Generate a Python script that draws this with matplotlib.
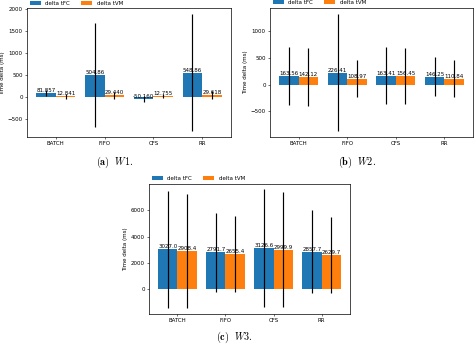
import numpy as np
import matplotlib
matplotlib.use('Agg')
import matplotlib.pyplot as plt

plt.rcParams['mathtext.fontset'] = 'cm'

# categories
schedulers = ['BATCH', 'FIFO', 'CFS', 'RR']

# W1
w1_tfc = [81.857, 504.86, -50.16, 548.86]
w1_tfc_err = [75, 1185, 78, 1335]
w1_tvm = [12.841, 29.440, 12.755, 29.618]
w1_tvm_err = [55, 80, 45, 90]

# W2
w2_tfc = [163.56, 226.41, 163.41, 146.25]
w2_tfc_err = [545, 1105, 535, 370]
w2_tvm = [142.12, 108.97, 156.45, 110.84]
w2_tvm_err = [540, 350, 532, 350]

# W3
w3_tfc = [3027.0, 2791.7, 3126.6, 2857.7]
w3_tfc_err = [4420, 2980, 4450, 3150]
w3_tvm = [2908.4, 2655.4, 2999.9, 2629.7]
w3_tvm_err = [4300, 2870, 4350, 2880]

fs = 4
width = 0.4


def draw(ax, tfc, tfc_err, tvm, tvm_err):
    x = np.arange(len(schedulers))
    ax.bar(x - width / 2, tfc, width, yerr=tfc_err, color='#1f77b4',
           ecolor='black', error_kw={'elinewidth': 0.85}, label='delta tFC')
    ax.bar(x + width / 2, tvm, width, yerr=tvm_err, color='#ff7f0e',
           ecolor='black', error_kw={'elinewidth': 0.85}, label='delta tVM')
    for xi, v in zip(x - width / 2, tfc):
        ax.text(xi, v, '%#.5g' % v, ha='center', va='bottom', fontsize=fs)
    for xi, v in zip(x + width / 2, tvm):
        ax.text(xi, v, '%#.5g' % v, ha='center', va='bottom', fontsize=fs)
    ax.set_xticks(x)
    ax.set_xticklabels(schedulers)
    ax.set_ylabel('Time delta (ms)', fontsize=fs, labelpad=2)
    ax.tick_params(labelsize=fs, length=1.5, width=0.4, pad=1.5)
    for s in ax.spines.values():
        s.set_linewidth(0.5)
    ax.legend(loc='lower left', bbox_to_anchor=(0, 1.0), ncol=2,
              frameon=False, fontsize=fs, borderaxespad=0.1)


fig = plt.figure(figsize=(4.74, 3.45), dpi=100)

ax1 = fig.add_axes([27 / 474, (345 - 137) / 345, 204 / 474, 128.6 / 345])
draw(ax1, w1_tfc, w1_tfc_err, w1_tvm, w1_tvm_err)

ax2 = fig.add_axes([270 / 474, (345 - 137) / 345, 203 / 474, 129 / 345])
draw(ax2, w2_tfc, w2_tfc_err, w2_tvm, w2_tvm_err)

ax3 = fig.add_axes([149 / 474, (345 - 314.3) / 345, 201 / 474, 130.3 / 345])
draw(ax3, w3_tfc, w3_tfc_err, w3_tvm, w3_tvm_err)
ax3.set_ylim(-1900, 7990)

fig.text(115 / 474, 1 - 162 / 345, r'$\mathbf{(a)}\ \ W1.$', ha='center',
         va='center', fontsize=7.3)
fig.text(357 / 474, 1 - 162 / 345, r'$\mathbf{(b)}\ \ W2.$', ha='center',
         va='center', fontsize=7.3)
fig.text(234 / 474, 1 - 337 / 345, r'$\mathbf{(c)}\ \ W3.$', ha='center',
         va='center', fontsize=7.3)

fig.savefig('out.png', dpi=100)
